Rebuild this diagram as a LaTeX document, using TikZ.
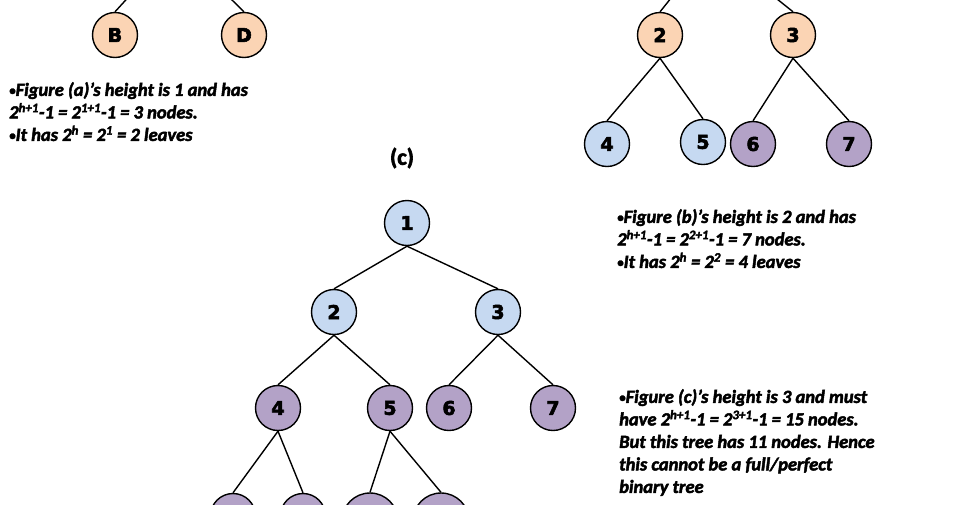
\documentclass[tikz,border=0pt]{standalone}
\usepackage{fontspec}
\setmainfont{Carlito}[BoldFeatures={FakeBold=2.5},BoldItalicFeatures={FakeBold=2.5}]
\newfontfamily\keyfont{DejaVu Sans}[BoldFeatures={FakeBold=3}]
\usepackage{tikz}

\definecolor{peach}{HTML}{FBD4B4}
\definecolor{sky}{HTML}{C6D9F1}
\definecolor{lilac}{HTML}{B3A2C7}
\newcommand\dotmark{{\fontsize{13}{0}\selectfont\raisebox{1pt}{•}}}

\begin{document}
\begin{tikzpicture}[x=1pt,y=-1pt,
  key/.style={circle,draw,line width=1.4pt,minimum size=45pt,inner sep=0pt,
    font=\keyfont\bfseries\fontsize{19}{19}\selectfont},
  edge/.style={line width=1.4pt},
  note/.style={anchor=north west,align=left,inner sep=0pt,
    font=\bfseries\itshape\fontsize{18.5}{22.5}\selectfont}]
\useasboundingbox (0,0) rectangle (960,504);
\clip (0,0) rectangle (960,504);

% tree (a)
\coordinate (ra) at (176,-55);
\node [key,fill=peach] (aB) at (115,35) {B};
\node [key,fill=peach] (aD) at (244,35) {D};
\draw [edge] (ra) -- (aB.north);
\draw [edge] (ra) -- (aD.north);
\node [note] (na) at (9,82) {\dotmark Figure (a)’s height is 1 and has\\
  2\textsuperscript{h+1}-1 = 2\textsuperscript{1+1}-1 = 3 nodes.\\
  \dotmark It has 2\textsuperscript{h} = 2\textsuperscript{1} = 2 leaves};

% tree (b)
\coordinate (rb) at (712,-53);
\node [key,fill=peach] (b2) at (660,35) {2};
\node [key,fill=peach] (b3) at (793,35) {3};
\node [key,fill=sky] (b4) at (607,144) {4};
\node [key,fill=sky] (b5) at (703,142) {5};
\node [key,fill=lilac] (b6) at (753,144) {6};
\node [key,fill=lilac] (b7) at (849,144) {7};
\draw [edge] (rb) -- (b2.north);
\draw [edge] (rb) -- (b3.north);
\draw [edge] (b2.south) -- (b4.north);
\draw [edge] (b2.south) -- (b5.north);
\draw [edge] (b3.south) -- (b6.north);
\draw [edge] (b3.south) -- (b7.north);
\node [note] (nb) at (617,209) {\dotmark Figure (b)’s height is 2 and has\\
  2\textsuperscript{h+1}-1 = 2\textsuperscript{2+1}-1 = 7 nodes.\\
  \dotmark It has 2\textsuperscript{h} = 2\textsuperscript{2} = 4 leaves};

% tree (c)
\node [font=\bfseries\fontsize{23}{23}\selectfont] (tc) at (402,158) {(c)};
\node [key,fill=sky] (c1) at (407,223) {1};
\node [key,fill=sky] (c2) at (334,312) {2};
\node [key,fill=sky] (c3) at (498,312) {3};
\node [key,fill=lilac] (c4) at (278,408) {4};
\node [key,fill=lilac] (c5) at (390,408) {5};
\node [key,fill=lilac] (c6) at (449,408) {6};
\node [key,fill=lilac] (c7) at (553,408) {7};
\node [key,fill=lilac] (c8) at (233,516) {};
\node [key,fill=lilac] (c9) at (303,516) {};
\node [key,fill=lilac,minimum size=56pt] (c10) at (370,521) {};
\node [key,fill=lilac,minimum size=56pt] (c11) at (441,521) {};
\draw [edge] (c1.south) -- (c2.north);
\draw [edge] (c1.south) -- (c3.north);
\draw [edge] (c2.south) -- (c4.north);
\draw [edge] (c2.south) -- (c5.north);
\draw [edge] (c3.south) -- (c6.north);
\draw [edge] (c3.south) -- (c7.north);
\draw [edge] (c4.south) -- (c8.north);
\draw [edge] (c4.south) -- (c9.north);
\draw [edge] (c5.south) -- (c10.north);
\draw [edge] (c5.south) -- (c11.north);
\node [note] (nc) at (619,389) {\dotmark Figure (c)’s height is 3 and must\\
  have 2\textsuperscript{h+1}-1 = 2\textsuperscript{3+1}-1 = 15 nodes.\\
  But this tree has 11 nodes. Hence\\
  this cannot be a full/perfect\\
  binary tree};
\end{tikzpicture}
\end{document}
